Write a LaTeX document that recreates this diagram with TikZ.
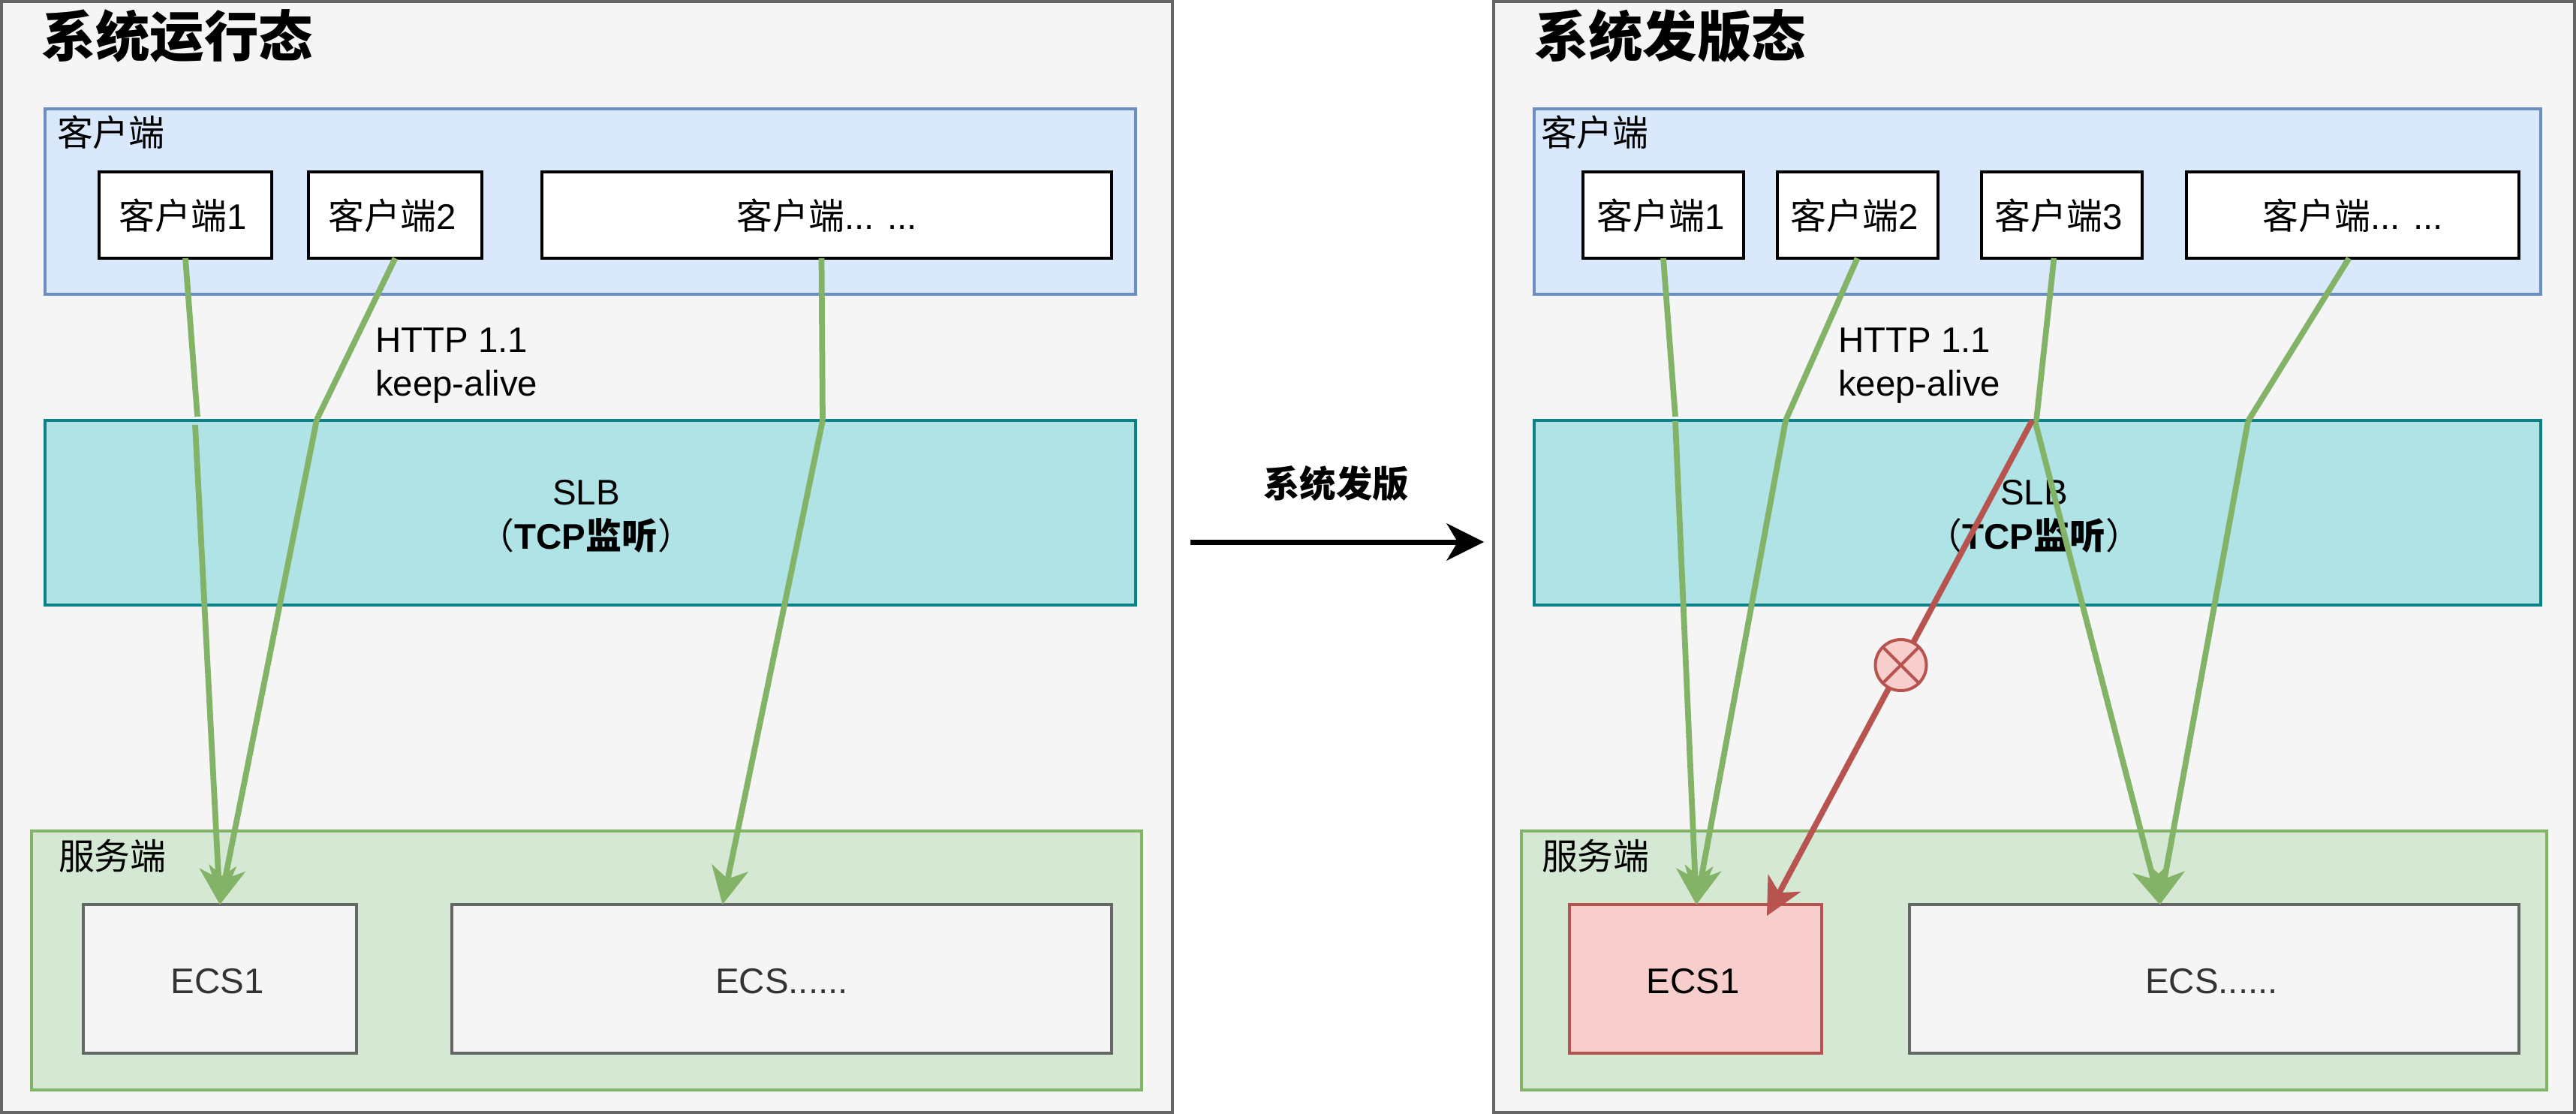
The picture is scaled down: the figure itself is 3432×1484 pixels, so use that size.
\documentclass[tikz,border=0pt]{standalone}
\usepackage{fontspec}
\setmainfont{Liberation Sans}
\newfontfamily\cjkf[Scale=1.01]{Noto Sans CJK SC}
\usetikzlibrary{arrows.meta}
\newcommand\zh[1]{{\cjkf #1}}
\tikzset{
  every node/.style={outer sep=0pt,inner sep=0pt,text=black},
  bodytext/.style={font=\fontsize{27}{33}\selectfont},
  boxbase/.style={draw,rectangle,line width=.08cm,minimum height=2.3cm,bodytext,text height=.9cm,text depth=.12cm},
  leftnudge/.style={execute at end node={\kern.14cm}},
  panel/.style={draw=c666,fill=cf5,rectangle,line width=.08cm,minimum height=29.6cm},
  bluebox/.style={draw=cblueL,fill=cblueF,rectangle,line width=.08cm,minimum height=4.94cm},
  slbbox/.style={draw=ctealL,fill=ctealF,rectangle,line width=.08cm,minimum height=4.92cm},
  greenbox/.style={draw=cgreenL,fill=cgreenF,rectangle,line width=.08cm,minimum height=6.9cm},
  clientbox/.style={boxbase,draw=black,fill=white},
  ecsbox/.style={boxbase,draw=c666,fill=cf5,minimum height=3.96cm,text=c333},
  ecsred/.style={boxbase,draw=credL,fill=credF,minimum height=3.96cm},
  titletext/.style={anchor=base west,font=\fontsize{40.8}{48}\selectfont\bfseries},
  grouptext/.style={anchor=base west,bodytext},
  slbtext/.style={align=center,font=\fontsize{27}{34}\selectfont},
  flow/.style={draw=cgreenL,line width=.155cm},
  flowtip/.style={flow,-{Stealth[length=1cm,width=1cm,inset=.3cm,line width=0pt,fill=cgreenL]}},
  failtip/.style={draw=credL,line width=.155cm,-{Stealth[length=1cm,width=1cm,inset=.3cm,line width=0pt,fill=credL]}},
  mainarrow/.style={draw=black,line width=.14cm,-{Stealth[length=1cm,width=1cm,inset=.3cm,line width=0pt]}},
  failmark/.style={draw=credL,fill=credF,circle,line width=.08cm,minimum size=1.36cm},
  failcross/.style={draw=credL,line width=.08cm}
}
\definecolor{c666}{HTML}{666666}
\definecolor{c333}{HTML}{333333}
\definecolor{cf5}{HTML}{F5F5F5}
\definecolor{cblueL}{HTML}{6C8EBF}
\definecolor{cblueF}{HTML}{DAE8FC}
\definecolor{ctealL}{HTML}{0E8088}
\definecolor{ctealF}{HTML}{B0E3E6}
\definecolor{cgreenL}{HTML}{82B366}
\definecolor{cgreenF}{HTML}{D5E8D4}
\definecolor{credL}{HTML}{B85450}
\definecolor{credF}{HTML}{F8CECC}
\begin{document}
\begin{tikzpicture}[x=.02cm,y=-.02cm]
\useasboundingbox (0,0) rectangle (3432,1484);
% left panel
\node[panel,minimum width=31.2cm] (panelL) at (782,742) {};
\node[titletext] (titleL) at (55,75) {\zh{系统运行态}};
\node[bluebox,minimum width=29.06cm] (blueL) at (786.5,268.5) {};
\node[grouptext] (blueLtext) at (76,194) {\zh{客户端}};
\node[clientbox,leftnudge,minimum width=4.6cm] (c1L) at (247,286.5) {\zh{客户端}1};
\node[clientbox,leftnudge,minimum width=4.62cm] (c2L) at (526.5,286.5) {\zh{客户端}2};
\node[clientbox,minimum width=15.2cm] (c3L) at (1101.5,286.5) {\zh{客户端}... ...};
\node[slbbox,minimum width=29.06cm] (slbL) at (786.5,683) {};
\node[slbtext] (slbLtext) at (781,688) {SLB\\\zh{（}\textbf{TCP\zh{监听}}\zh{）}};
\node[greenbox,minimum width=29.58cm] (greenL) at (781.5,1279.5) {};
\node[grouptext] (greenLtext) at (78,1158) {\zh{服务端}};
\node[ecsbox,leftnudge,minimum width=7.28cm] (e1L) at (293,1304) {ECS1};
\node[ecsbox,minimum width=17.58cm] (e2L) at (1041.5,1304) {ECS......};
\node[bodytext,align=left,anchor=north west] (httpL) at (500,437) {HTTP 1.1\\keep-alive};
% left connectors
\coordinate (a1L) at (263,555);
\coordinate (a1Lb) at (260,566);
\coordinate (a2L) at (422,559);
\coordinate (a3L) at (1096,560);
\draw[flow] (c1L.south) -- (a1L);
\draw[flowtip] (a1Lb) -- (e1L.north);
\draw[flow] (c2L.south) -- (a2L);
\draw[flowtip] (a2L) -- (e1L.north);
\draw[flow] ([xshift=-.14cm]c3L.south) -- (a3L);
\draw[flowtip] (a3L) -- ([xshift=-1.58cm]e2L.north);
% middle
\coordinate (mainS) at (1586,722);
\coordinate (mainE) at (1977,722);
\draw[mainarrow] (mainS) -- (mainE);
\node[anchor=base,font=\fontsize{27.3}{33}\selectfont\bfseries] (mainlabel) at (1780,662) {\zh{系统发版}};
% right panel
\node[panel,minimum width=28.8cm] (panelR) at (2710,742) {};
\node[titletext] (titleR) at (2044,75) {\zh{系统发版态}};
\node[bluebox,minimum width=26.82cm] (blueR) at (2714.5,268.5) {};
\node[grouptext] (blueRtext) at (2053,194) {\zh{客户端}};
\node[clientbox,leftnudge,minimum width=4.28cm] (c1R) at (2216,286.5) {\zh{客户端}1};
\node[clientbox,leftnudge,minimum width=4.28cm] (c2R) at (2474.5,286.5) {\zh{客户端}2};
\node[clientbox,leftnudge,minimum width=4.28cm] (c3R) at (2746.5,286.5) {\zh{客户端}3};
\node[clientbox,minimum width=8.86cm] (c4R) at (3134.5,286.5) {\zh{客户端}... ...};
\node[slbbox,minimum width=26.82cm] (slbR) at (2714.5,683) {};
\node[slbtext] (slbRtext) at (2710,688) {SLB\\\zh{（}\textbf{TCP\zh{监听}}\zh{）}};
\node[greenbox,minimum width=27.32cm] (greenR) at (2710,1279.5) {};
\node[grouptext] (greenRtext) at (2054,1158) {\zh{服务端}};
\node[ecsred,leftnudge,minimum width=6.72cm] (e1R) at (2259,1304) {ECS1};
\node[ecsbox,leftnudge,minimum width=16.24cm] (e2R) at (2950,1304) {ECS......};
\node[bodytext,align=left,anchor=north west] (httpR) at (2449,437) {HTTP 1.1\\keep-alive};
% right connectors
\coordinate (a1R) at (2232,555);
\coordinate (a1Rb) at (2232,561);
\coordinate (a2R) at (2379,560);
\coordinate (a3R) at (2713,560);
\coordinate (a3Rb) at (2711,560);
\coordinate (a4R) at (2995,561);
\coordinate (aRed) at (2707.5,560);
\draw[flow] (c1R.south) -- (a1R);
\draw[flowtip] (a1Rb) -- ([xshift=.02cm]e1R.north);
\draw[flow] (c2R.south) -- (a2R);
\draw[flowtip] (a2R) -- ([xshift=.02cm]e1R.north);
\draw[flow] ([xshift=-.2cm]c3R.south) -- (a3R);
\draw[flowtip] (a3Rb) -- ([xshift=-1.45cm]e2R.north);
\draw[flow] ([xshift=-.1cm]c4R.south) -- (a4R);
\draw[flowtip] (a4R) -- ([xshift=-1.45cm]e2R.north);
\draw[failtip] (aRed) -- ([xshift=1.9cm,yshift=-.3cm]e1R.north);
\node[failmark] (fail) at (2532.5,886) {};
\draw[failcross] (fail.north east) -- (fail.south west);
\draw[failcross] (fail.north west) -- (fail.south east);
\end{tikzpicture}
\end{document}
